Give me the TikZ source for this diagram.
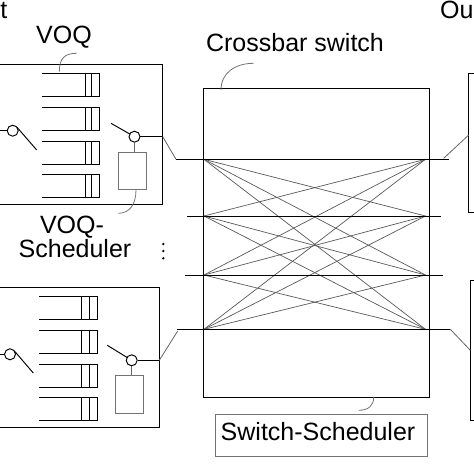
\documentclass[tikz,border=0pt]{standalone}
\usepackage{fontspec}
\setmainfont{Liberation Sans}
\begin{document}
\begin{tikzpicture}[x=1pt,y=-1pt,
  blk/.style={draw=black,line width=0.95pt},
  thin/.style={draw=black!60,line width=0.8pt},
  lead/.style={draw=black!55,line width=0.8pt},
  fan/.style={draw=black!65,line width=0.7pt},
  lbl/.style={font=\fontsize{25}{28}\selectfont,inner sep=0pt,anchor=base},
  dot/.style={circle,fill=black,minimum size=2.6pt,inner sep=0pt},
  sw/.style={circle,draw=black,line width=0.95pt,fill=white,minimum size=11pt,inner sep=0pt}]
\useasboundingbox (0,0) rectangle (474,474);
\clip (0,0) rectangle (474,474);
% labels
\node[lbl,anchor=base east] (inlbl) at (7.5,18) {t};
\node[lbl,anchor=base west] (outlbl) at (440,18) {Ou};
\node[lbl] (voqlbl) at (64,43.3) {VOQ};
\node[lbl] (xbarlbl) at (295,51) {Crossbar switch};
\node[lbl] (vsl1) at (72,233) {VOQ-};
\node[lbl] (vsl2) at (75,257.7) {Scheduler};
\node[dot] (d1) at (163.3,244) {};
\node[dot] (d2) at (163.3,251) {};
\node[dot] (d3) at (163.3,258.3) {};
% input box 1
\draw[blk] (-5,64.3) rectangle (162.7,204.3);
\foreach \t/\b in {73.3/96.3,107.3/130,141.7/164,174.7/197.3}{
  \draw[blk] (41.7,\t) -- (99.3,\t) -- (99.3,\b) -- (41.7,\b);
  \draw[blk] (85,\t) -- (85,\b) (91.7,\t) -- (91.7,\b);
}
\node[sw] (ins1) at (12.7,130.7) {};
\coordinate (in1) at (0,130.7);
\draw[blk] (in1) -- (ins1.west);
\coordinate (arm1) at (36.7,150);
\draw[blk] (ins1) ++(-39:5.5) -- (arm1);
\coordinate (arm2) at (111,123.3);
\draw[blk] (arm2) -- (134.5,136.7);
\node[sw] (outs1) at (134.5,136.7) {};
\node[draw=black!55,line width=1pt,minimum width=28.7pt,minimum height=37.7pt,inner sep=0pt] (sch1) at (132.6,171.1) {};
\draw[thin] (outs1.south) -- (outs1.south |- sch1.north);
\coordinate (b1e) at (162.7,136.7);
\draw[blk] (outs1.east) -- (b1e);
% input box 2
\draw[blk] (-5,287.7) rectangle (159.3,427.7);
\foreach \t/\b in {296.3/319.3,330.3/353.7,364.3/387,397.7/420.3}{
  \draw[blk] (39,\t) -- (97.3,\t) -- (97.3,\b) -- (39,\b);
  \draw[blk] (81.7,\t) -- (81.7,\b) (89.3,\t) -- (89.3,\b);
}
\node[sw] (ins2) at (10,354.3) {};
\coordinate (in2) at (0,354.3);
\draw[blk] (in2) -- (ins2.west);
\coordinate (arm3) at (33.3,373);
\draw[blk] (ins2) ++(-39:5.5) -- (arm3);
\coordinate (arm4) at (107.3,345.3);
\draw[blk] (arm4) -- (131.7,360.3);
\node[sw] (outs2) at (131.7,360.3) {};
\node[draw=black!55,line width=1pt,minimum width=28.3pt,minimum height=37.7pt,inner sep=0pt] (sch2) at (129.8,394.2) {};
\draw[thin] (outs2.south) -- (outs2.south |- sch2.north);
\coordinate (b2e) at (159.3,360.3);
\draw[blk] (outs2.east) -- (b2e);
% crossbar
\node[draw=black,line width=0.95pt,minimum width=226pt,minimum height=309pt,inner sep=0pt] (xbar) at (316,242.5) {};
\foreach \i/\y in {1/159.3,2/216,3/275,4/329.3}{
  \coordinate (L\i) at (204,\y);
  \coordinate (R\i) at (425.5,\y);
}
\foreach \i in {1,...,4}{
  \foreach \j in {1,...,4}{
    \ifnum\i=\j\else \draw[fan] (L\i) -- (R\j); \fi
  }
}
\coordinate (h1a) at (176,159.3);   \coordinate (h1b) at (448.7,159.3);
\coordinate (h2a) at (187,216);     \coordinate (h2b) at (441,216);
\coordinate (h3a) at (185,275);     \coordinate (h3b) at (442.7,275);
\coordinate (h4a) at (176.7,329.3); \coordinate (h4b) at (449.5,329.3);
\foreach \i in {1,...,4}{ \draw[blk] (h\i a) -- (h\i b); }
\draw[thin] (b1e) -- (h1a);
\draw[thin] (b2e) -- (177.7,331);
% outputs
\draw[blk] (468.7,73.3) rectangle (490,212.3);
\draw[blk] (470.3,280.3) rectangle (490,420.3);
\draw[thin] (443.7,158.3) -- (468.7,135);
\draw[thin] (450.3,329.3) -- (470.3,350.3);
% switch scheduler
\node[draw=black!55,line width=1pt,minimum width=212.7pt,minimum height=41.3pt,inner sep=0pt] (ssch) at (321.35,435.35) {};
\node[lbl] (sschlbl) at (318,440.3) {Switch-Scheduler};
% leaders
\draw[lead] (59.3,71.7) .. controls (59.3,58) and (65,53.3) .. (76.7,53.3);
\draw[lead] (221,90) .. controls (221,73) and (235,63.3) .. (253.7,63.3);
\draw[lead] (136,190) .. controls (136,205) and (129,213.3) .. (118.3,213.3);
\draw[lead] (373.7,397) .. controls (373.7,406) and (368,410.3) .. (358.7,410.3);
\end{tikzpicture}
\end{document}
